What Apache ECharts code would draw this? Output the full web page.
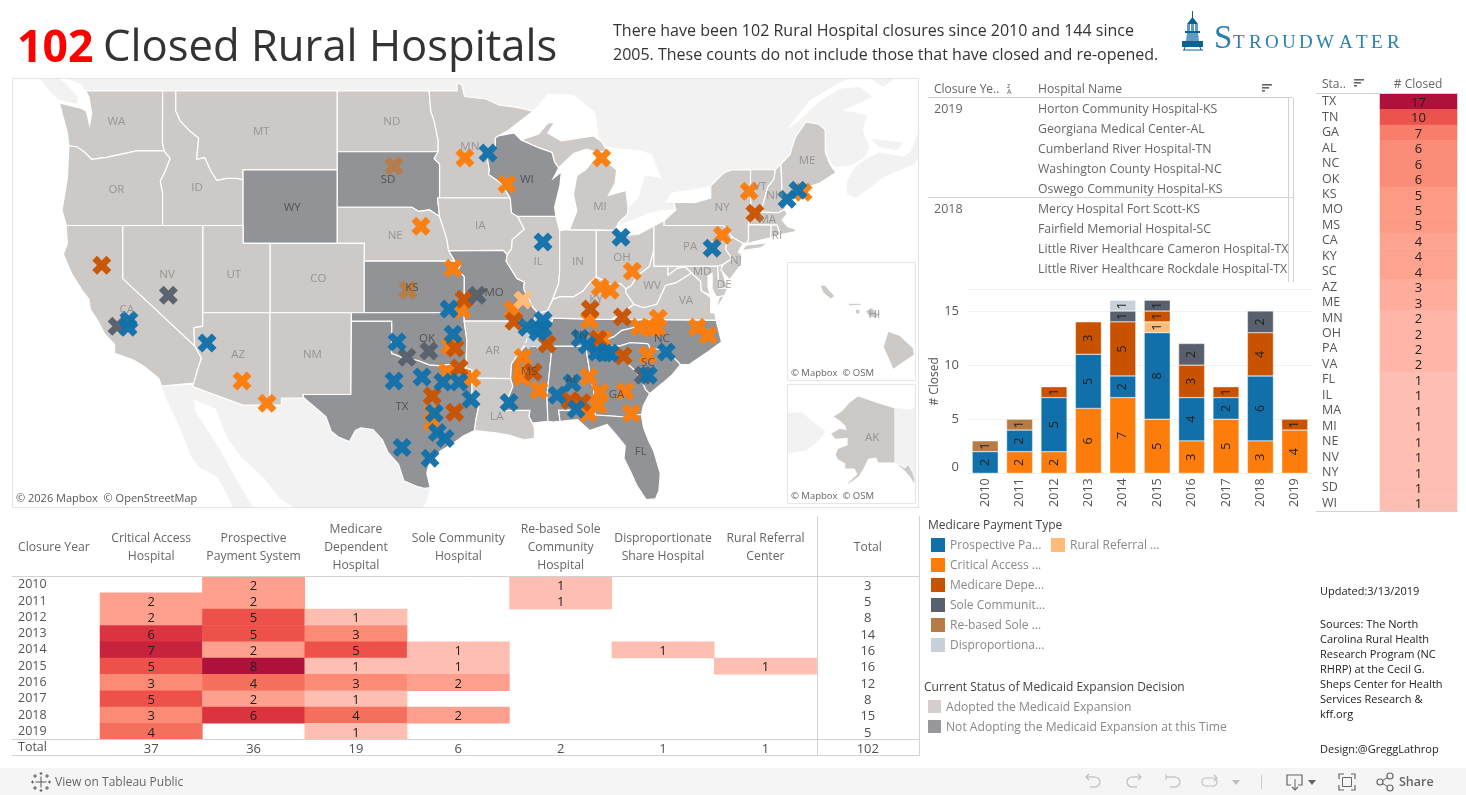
<!DOCTYPE html>
<html>
<head>
<meta charset="utf-8">
<title>102 Closed Rural Hospitals</title>
<style>html,body{margin:0;padding:0;background:#fff}#chart{width:1466px;height:795px}</style>
<script src="https://cdn.jsdelivr.net/npm/echarts@6/dist/echarts.min.js"></script>
</head>
<body>
<div id="chart"></div>
<script>
// ---------- Closures by year and Medicare payment type ----------
const years = ['2010','2011','2012','2013','2014','2015','2016','2017','2018','2019'];
const critical    = [null,2,2,6,7,5,3,5,3,4];
const prospective = [2,2,5,5,2,8,4,2,6,null];
const dependent   = [null,null,1,3,5,1,3,1,4,1];
const soleComm    = [null,null,null,null,1,1,2,null,2,null];
const rebased     = [1,1,null,null,null,null,null,null,null,null];
const dispro      = [null,null,null,null,1,null,null,null,null,null];
const rural       = [null,null,null,null,null,1,null,null,null,null];
const yearTotals  = [3,5,8,14,16,16,12,8,15,5];
const typeTotals  = [37,36,19,6,2,1,1,102];
const typeHeads   = ['Critical Access\nHospital','Prospective\nPayment System','Medicare\nDependent\nHospital','Sole Community\nHospital','Re-based Sole\nCommunity\nHospital','Disproportionate\nShare Hospital','Rural Referral\nCenter','Total'];

// ---------- Closures by state ----------
const stateNames  = ['TX','TN','GA','AL','NC','OK','KS','MO','MS','CA','KY','SC','AZ','ME','MN','OH','PA','VA','FL','IL','MA','MI','NE','NV','NY','SD','WI'];
const stateClosed = [17,10,7,6,6,6,5,5,5,4,4,4,3,3,2,2,2,2,1,1,1,1,1,1,1,1,1];

// ---------- Most recent closures ----------
const hospitals2019 = ['Horton Community Hospital-KS','Georgiana Medical Center-AL','Cumberland River Hospital-TN','Washington County Hospital-NC','Oswego Community Hospital-KS'];
const hospitals2018 = ['Mercy Hospital Fort Scott-KS','Fairfield Memorial Hospital-SC','Little River Healthcare Cameron Hospital-TX','Little River Healthcare Rockdale Hospital-TX'];

// ---------- Hospital locations [lon, lat] ----------
const sitesCritical = [[-111.13,32.84],[-109.27,31.44],[-97.83,41.96],[-95.45,39.6],[-94.78,37.16],[-95.67,35],[-95.89,33.4],[-94.06,33.03],[-96.99,30.87],[-96.99,30.23],[-94.57,45.62],[-91.45,44.24],[-84.4,45.62],[-82.13,39.43],[-75.44,41.46],[-73.45,43.86],[-69.44,43.81],[-84.51,38.5],[-83.77,38.33],[-91,37.2],[-85.3,36.56],[-81.6,36.14],[-80.7,36.08],[-80.2,36.68],[-80.3,36.14],[-77.3,36.14],[-76.49,35.66],[-84.3,35.42],[-81,34.45],[-90.25,34.32],[-90.4,33.4],[-90.33,33.09],[-89.07,32.27],[-85.35,33.09],[-84.53,32.14],[-84.68,31.32],[-85.43,30.81],[-82.65,32.2],[-82.2,30.81]];
const sitesProspective = [[-119.53,36.56],[-119.6,36.14],[-113.73,35.18],[-95.75,37.22],[-95.45,35.72],[-99.61,35.24],[-99.83,32.84],[-97.75,33.09],[-96.2,32.78],[-95.02,32.78],[-94.11,31.7],[-96.84,30.81],[-96.62,29.58],[-96.03,29.19],[-99.24,28.6],[-97.16,27.9],[-92.85,45.87],[-88.76,41.08],[-82.97,41.35],[-76.2,40.73],[-70.63,43.43],[-69.82,43.92],[-89.95,36.14],[-88.76,36.56],[-88.76,36.08],[-89.13,35.84],[-86.01,35.48],[-85.49,35.06],[-84.75,34.63],[-83.79,34.57],[-84.2,34.57],[-79.6,34.63],[-80.93,33.2],[-91.29,31.5],[-87.72,31.95],[-86.6,32.72],[-86.3,31.06]];
const sitesDependent = [[-121.55,39.77],[-94.63,37.8],[-95.29,34.88],[-94.99,33.65],[-97,31.9],[-95.33,30.87],[-73.02,42.67],[-90.92,36.5],[-88.46,35.12],[-85.25,37.22],[-82.87,36.75],[-84.67,35.42],[-82.81,34.4],[-89.5,33.4],[-86.75,31.6],[-85.87,31.5]];
const sitesSole = [[-116.6,38.03],[-120.41,36.2],[-93.66,38.03],[-98.87,34.32],[-97.24,34.7],[-81.33,33.2]];
const sitesRebased = [[-99.84,45.2],[-98.8,38.33]];
const sitesRural = [[-90.26,37.75]];
const sitesDispro = [[-89.5,35.36]];

// ---------- Medicaid expansion groups ----------
const notAdopting = ['WY','SD','KS','MO','OK','TX','WI','TN','NC','SC','GA','AL','MS','FL'];

// ---------- State label anchors [name, lon, lat] ----------
const stateLabels = [['WA',-120.46,47.45],['OR',-120.46,43.97],['ID',-114.47,44.03],['MT',-109.7,46.95],['ND',-100,47.45],['SD',-100.28,44.46],['WY',-107.4,42.95],['NE',-99.75,41.46],['NV',-116.7,39.2],['UT',-111.74,39.2],['CO',-105.45,38.97],['KS',-98.5,38.45],['CA',-119.7,37.2],['AZ',-111.42,34.45],['NM',-105.9,34.45],['OK',-97.38,35.42],['TX',-99.24,31.2],['MN',-94.2,46.2],['WI',-89.96,44.46],['IA',-93.43,41.96],['MI',-84.53,43.05],['IL',-89.13,39.95],['IN',-86.16,39.95],['OH',-82.9,40.18],['MO',-92.4,38.2],['KY',-84.82,37.75],['WV',-80.66,38.56],['VA',-78.14,37.7],['PA',-77.83,40.8],['NY',-75.46,42.95],['ME',-69.14,45.46],['VT',-72.64,44.08],['NH',-71.53,43.6],['MA',-72.1,42.33],['RI',-71.38,41.46],['NJ',-74.43,40],['MD',-76.95,39.37],['DE',-75.3,38.63],['TN',-86,35.65],['NC',-79.93,35.42],['SC',-80.97,33.95],['GA',-83.3,32],['AL',-86.6,32.9],['MS',-89.8,33.45],['AR',-92.5,34.7],['LA',-92.2,30.6],['FL',-81.5,28.35]];

// ---------- Simplified outlines, "lon,lat" rings ----------
const backdropRings = {
  Canada:['-124.2,49.62 -123,49.3 -122.76,48.95 -95.15,48.9 -94.6,48.6 -92,48.2 -90.8,48.1 -89.5,47.95 -88.4,48.85 -86.5,48.8 -84.9,47.95 -84.6,46.55 -84.1,46.2 -83,46.1 -81.5,46 -80.7,45.8 -80,44.6 -81.2,44.7 -81.7,43.5 -82.42,43 -82.5,42.6 -83.1,42.2 -83.1,42 -81,42.65 -80,42.85 -78.9,42.85 -79.05,43.27 -79.7,43.25 -79.2,43.8 -77.5,43.95 -76.3,44.15 -75.3,44.85 -74.7,45 -71.5,45 -70.4,45.8 -70,46.7 -69.23,47.46 -68.3,47.35 -67.8,47.07 -67.78,45.9 -67.1,45.15 -66,45.2 -64.9,45.6 -64.5,46.2 -65,47 -64.7,47.8 -65.7,47.95 -66.5,48 -64.3,48.7 -65.2,49.2 -66.7,49.1 -68.2,48.5 -69.9,47.4 -70.6,47.1 -69.9,47.75 -69,48.5 -68,48.9 -67,49.3 -66,49.62',
    '-125.3,48.9 -124.7,48.55 -123.4,48.35 -123.3,48.7 -124.3,49.4 -124.8,49.62 -126.2,49.62',
    '-66.2,43.7 -65.5,43.5 -63.5,44.6 -61.2,45.3 -60.9,45.6 -60.9,46.9 -61.5,45.9 -62,45.7 -63.8,45.9 -64.8,45.55 -65.5,45.2 -66.2,44.4',
    '-64.4,46.6 -63,46.5 -62,46.4 -62.5,46 -63.8,46.2',
    '-64.5,49.62 -62.5,49.62 -63.5,49.2'],
  Mexico:['-114.7,31.7 -114.8,32.6 -106,32 -100,30 -97.15,26 -97.4,25 -97.75,24.65 -107.3,24.65 -108.3,25.2 -109.4,26.5 -110.6,27.5 -111.2,28 -112.2,29.2 -113.1,31.1',
    '-117.12,32.53 -114.8,32.6 -114.7,31.7 -114.6,30.9 -113.6,29.6 -112.8,28.5 -111.8,26.9 -110.7,25.2 -110.3,24.65 -111.8,24.65 -112.3,25.6 -113,26.7 -114.3,27.3 -114.9,28 -115.8,30 -116.7,31.6'],
  Superior:['-92.1,46.75 -89.5,48 -88.4,48.85 -86.5,48.8 -84.9,47.95 -84.6,46.55 -85,46.75 -87.4,46.5 -88.4,47.4 -90.4,46.6'],
  Huron:['-84.7,45.78 -83.3,45 -83.4,44.3 -83.9,43.65 -82.6,43.9 -82.45,43 -81.7,43.5 -81.2,44.7 -80,44.6 -80.7,45.8 -81.5,46 -83,46.1 -84.1,46.2'],
  Erie:['-83.45,41.73 -82.7,41.45 -81.7,41.5 -80.52,41.98 -79.76,42.27 -78.9,42.85 -80,42.85 -81,42.65 -83.1,42'],
  Ontario:['-79.7,43.25 -79.05,43.27 -77.5,43.25 -76.3,43.5 -76.3,44.15 -77.5,43.95 -79.2,43.8']
};
const stateRings = {
  WA:['-124.7,48.4 -123.1,48.15 -122.7,48 -122.45,47.3 -122.3,47.9 -122.5,48.7 -122.76,49 -117.03,49 -117.04,46.42 -116.92,45.99 -118.98,46 -119.3,45.93 -121.2,45.65 -122.3,45.55 -122.8,45.9 -123.4,46.2 -124,46.25 -124.1,46.9'],
  OR:['-124,46.25 -123.4,46.2 -122.8,45.9 -122.3,45.55 -121.2,45.65 -119.3,45.93 -118.98,46 -116.92,45.99 -116.47,45.6 -116.85,44.9 -117.2,44.4 -117.03,43.8 -117.03,42 -124.2,42 -124.5,42.84 -124.1,44.6'],
  ID:['-117.03,49 -116.05,49 -116.05,48 -115.7,47.5 -115,47 -114.35,46.65 -114.5,45.55 -113.9,45.65 -113.45,44.95 -113,44.45 -112.3,44.55 -111.5,44.55 -111.05,44.48 -111.05,42 -117.03,42 -117.03,43.8 -117.2,44.4 -116.85,44.9 -116.47,45.6 -116.92,45.99 -117.04,46.42'],
  MT:['-116.05,49 -104.05,49 -104.05,45 -111.05,45 -111.05,44.48 -111.5,44.55 -112.3,44.55 -113,44.45 -113.45,44.95 -113.9,45.65 -114.5,45.55 -114.35,46.65 -115,47 -115.7,47.5 -116.05,48'],
  WY:['-111.05,45 -104.05,45 -104.05,41 -111.05,41'],
  ND:['-104.05,49 -97.23,49 -97.1,48 -96.85,47.5 -96.55,46.5 -96.56,45.94 -104.05,45.94'],
  SD:['-104.05,45.94 -96.56,45.94 -96.85,45.6 -96.45,45.3 -96.45,43.5 -96.6,43.5 -96.45,42.49 -97.2,42.85 -98,42.77 -98.5,43 -104.05,43'],
  NE:['-104.05,43 -98.5,43 -98,42.77 -97.2,42.85 -96.45,42.49 -96.1,41.7 -95.9,41.2 -95.77,40.58 -95.31,40 -102.05,40 -102.05,41 -104.05,41'],
  CO:['-109.05,41 -102.05,41 -102.05,37 -109.05,37'],
  KS:['-102.05,40 -95.31,40 -94.9,39.75 -95.1,39.5 -94.61,39.11 -94.62,37 -102.05,37'],
  UT:['-114.05,42 -111.05,42 -111.05,41 -109.05,41 -109.05,37 -114.05,37'],
  NV:['-120,42 -114.05,42 -114.05,36.2 -114.7,36.1 -114.65,35 -120,39'],
  AZ:['-114.05,37 -109.05,37 -109.05,31.33 -111.07,31.33 -114.8,32.5 -114.72,32.72 -114.5,33.4 -114.15,34.27 -114.65,35 -114.7,36.1 -114.05,36.2'],
  NM:['-109.05,37 -103,37 -103.04,32 -106.62,32 -106.53,31.78 -108.2,31.78 -108.2,31.33 -109.05,31.33'],
  CA:['-124.2,42 -120,42 -120,39 -114.65,35 -114.15,34.27 -114.5,33.4 -114.72,32.72 -117.12,32.53 -117.3,33 -118.4,33.75 -119.2,34.15 -120.6,34.55 -120.6,35.1 -121.3,35.7 -121.9,36.6 -122.4,37.2 -122.5,37.8 -123,38.3 -123.8,39.3 -124.4,40.4 -124.1,41'],
  TX:['-106.62,32 -103.04,32 -103,36.5 -100,36.5 -100,34.56 -99.2,34.3 -98.1,34.13 -97.2,33.85 -96.5,33.8 -95.5,33.9 -94.48,33.64 -94.04,33.55 -94.04,33.02 -94.04,31.99 -93.55,31.2 -93.75,30.4 -93.85,29.7 -94.7,29.35 -95.4,28.9 -96.4,28.35 -97.2,27.65 -97.4,26.9 -97.15,25.96 -97.6,25.9 -98.2,26.05 -99.1,26.4 -99.5,27.5 -100.3,28.3 -100.7,29.1 -101.4,29.77 -102.3,29.88 -102.7,29.7 -103.15,28.98 -104,29.3 -104.5,29.65 -104.9,30.6 -106,31.4 -106.53,31.78'],
  OK:['-103,37 -94.62,37 -94.62,36.5 -94.43,35.4 -94.48,33.64 -95.5,33.9 -96.5,33.8 -97.2,33.85 -98.1,34.13 -99.2,34.3 -100,34.56 -100,36.5 -103,36.5'],
  MN:['-97.23,49 -95.15,49 -95.15,49.38 -94.8,49.3 -94.6,48.72 -93,48.6 -92,48.3 -90.8,48.2 -89.5,48 -91.4,47 -92.1,46.75 -92.3,46.65 -92.3,46.1 -92.9,45.6 -92.75,45 -92.8,44.75 -91.9,44.3 -91.2,43.5 -96.45,43.5 -96.45,45.3 -96.85,45.6 -96.56,45.94 -96.55,46.5 -96.85,47.5 -97.1,48'],
  IA:['-96.45,43.5 -91.2,43.5 -91.1,42.7 -90.65,42.5 -90.15,41.8 -91.05,41.2 -91.1,40.7 -91.42,40.38 -91.73,40.61 -95.77,40.58 -95.9,41.2 -96.1,41.7 -96.45,42.49 -96.6,43.5'],
  MO:['-95.77,40.58 -91.73,40.61 -91.42,40.38 -91.5,40 -90.7,39 -90.15,38.8 -90.2,38.4 -89.5,37.3 -89.15,37 -89.5,36.5 -89.7,36 -90.37,36 -90.15,36.5 -94.62,36.5 -94.62,37 -94.61,39.11 -95.1,39.5 -94.9,39.75 -95.31,40'],
  AR:['-94.62,36.5 -90.15,36.5 -90.37,36 -89.7,36 -90.1,35.1 -90.6,34.5 -91.1,33.9 -91.17,33 -94.04,33.02 -94.04,33.55 -94.48,33.64 -94.43,35.4'],
  LA:['-94.04,33.02 -91.17,33 -91,32.5 -91.5,31.5 -91.6,31 -89.73,31 -89.8,30.6 -89.55,30.18 -89.4,29.9 -89.4,29.2 -90.2,29.1 -91.3,29.4 -92.3,29.55 -93.85,29.7 -93.75,30.4 -93.55,31.2 -94.04,31.99'],
  MS:['-90.1,35 -88.2,35 -88.1,34.9 -88.47,31.9 -88.4,30.3 -89.55,30.18 -89.8,30.6 -89.73,31 -91.6,31 -91.5,31.5 -91,32.5 -91.17,33 -91.1,33.9 -90.6,34.5'],
  AL:['-88.2,35 -85.6,35 -85.18,32.87 -85,32.3 -85,31 -87.6,31 -87.5,30.3 -88,30.25 -88.4,30.3 -88.47,31.9 -88.1,34.9'],
  TN:['-90.1,35 -88.2,35 -85.6,35 -84.32,34.99 -84,35.4 -83.5,35.57 -82.9,35.95 -82,36.12 -81.68,36.59 -83.68,36.6 -86.5,36.65 -88.07,36.68 -88.07,36.5 -89.5,36.5 -89.7,36'],
  KY:['-89.15,37 -89.5,36.5 -88.07,36.5 -88.07,36.68 -86.5,36.65 -83.68,36.6 -83.1,36.85 -82,37.5 -82.6,38.17 -82.6,38.4 -83,38.72 -83.7,38.65 -84.8,39.1 -85.4,38.7 -85.8,38.28 -86.5,37.95 -87.5,37.95 -88.05,37.8 -88.45,37.1'],
  IL:['-90.65,42.5 -87.8,42.5 -87.53,41.7 -87.53,39.35 -87.6,38.7 -88.05,37.8 -88.45,37.1 -89.15,37 -89.5,37.3 -90.2,38.4 -90.15,38.8 -90.7,39 -91.5,40 -91.42,40.38 -91.1,40.7 -91.05,41.2 -90.15,41.8'],
  IN:['-87.53,41.7 -87.2,41.75 -86.8,41.76 -84.8,41.76 -84.8,39.1 -85.4,38.7 -85.8,38.28 -86.5,37.95 -87.5,37.95 -88.05,37.8 -87.6,38.7 -87.53,39.35'],
  OH:['-84.8,41.76 -83.45,41.73 -82.7,41.45 -81.7,41.5 -80.52,41.98 -80.52,40.64 -80.85,39.7 -81.7,39.2 -82.2,38.6 -82.6,38.4 -83,38.72 -83.7,38.65 -84.8,39.1'],
  WV:['-80.52,40.64 -80.52,39.72 -79.48,39.72 -79.48,39.2 -78.8,39.6 -78.2,39.68 -77.72,39.32 -78.35,39 -78.9,38.75 -79.65,38.6 -80.3,37.5 -81.3,37.3 -82,37.5 -82.6,38.17 -82.6,38.4 -82.2,38.6 -81.7,39.2 -80.85,39.7'],
  VA:['-83.68,36.6 -81.68,36.59 -75.9,36.55 -76,37 -76.3,37 -76.3,37.9 -77,38.3 -77.05,38.85 -77.72,39.32 -78.35,39 -78.9,38.75 -79.65,38.6 -80.3,37.5 -81.3,37.3 -82,37.5 -83.1,36.85','-75.65,37.95 -75.25,38.03 -75.95,37.15'],
  MD:['-79.48,39.72 -75.79,39.72 -75.69,38.46 -75.05,38.45 -75.25,38.03 -75.65,37.95 -75.9,37.95 -76.2,38.4 -76.2,39.3 -76.5,39.2 -76.5,38.5 -76.35,38.05 -77,38.3 -77.05,38.85 -77.72,39.32 -78.2,39.68 -78.8,39.6 -79.48,39.2'],
  DE:['-75.79,39.72 -75.5,39.83 -75.4,39.3 -75.05,38.45 -75.69,38.46'],
  PA:['-80.52,41.98 -79.76,42.27 -79.76,42 -75.35,42 -74.7,41.36 -75.13,40.98 -75.2,40.68 -74.72,40.15 -75.4,39.8 -75.79,39.72 -80.52,39.72'],
  NJ:['-74.7,41.36 -73.9,41 -74.25,40.5 -74,40.4 -74.1,39.75 -74.9,38.93 -75.55,39.5 -75.4,39.8 -74.72,40.15 -75.2,40.68 -75.13,40.98'],
  NY:['-79.76,42.27 -78.9,42.85 -79.05,43.27 -77.5,43.25 -76.3,43.5 -76.3,44.15 -75.3,44.85 -74.7,45 -73.34,45.01 -73.35,43.6 -73.25,42.75 -73.5,42.05 -73.49,41.2 -73.66,41 -73.9,41 -74.7,41.36 -75.35,42 -79.76,42','-74,40.6 -73.7,40.9 -72,41.05 -72.6,40.75'],
  VT:['-73.34,45.01 -71.5,45.01 -71.6,44.5 -72.05,44.1 -72.45,43.1 -72.46,42.73 -73.25,42.75 -73.35,43.6'],
  NH:['-71.5,45.01 -71.08,45.3 -70.98,43.4 -70.7,43.07 -70.82,42.87 -71.3,42.7 -72.46,42.73 -72.45,43.1 -72.05,44.1 -71.6,44.5'],
  ME:['-71.08,45.3 -70.4,45.8 -70.25,46.2 -70,46.7 -69.23,47.46 -68.3,47.35 -67.8,47.07 -67.78,45.9 -67.45,45.3 -67,44.85 -68.2,44.3 -69,44.1 -70,43.75 -70.7,43.07 -70.98,43.4'],
  MA:['-73.5,42.05 -73.25,42.75 -72.46,42.73 -71.3,42.7 -70.82,42.87 -70.6,42.65 -71,42.3 -70.6,41.95 -70,41.8 -70.05,41.65 -71.12,41.5 -71.38,42.02 -71.8,42.02'],
  CT:['-73.5,42.05 -71.8,42.02 -71.85,41.32 -73.66,41 -73.49,41.2'],
  RI:['-71.8,42.02 -71.38,42.02 -71.12,41.5 -71.85,41.32'],
  MI:['-86.8,41.76 -84.8,41.76 -83.45,41.73 -83.1,42.2 -82.5,42.6 -82.45,43 -82.6,43.9 -83.9,43.65 -83.4,44.3 -83.3,45 -84.7,45.78 -85.6,45 -86.25,44.7 -86.5,43.7 -86.25,42.8','-90.4,46.55 -89.1,46.85 -88.4,47.4 -87.9,47.45 -88.4,46.9 -87.4,46.5 -86,46.65 -85,46.75 -84.4,46.45 -84,46 -84.75,45.9 -85.5,46.08 -86.5,45.85 -87.6,45.1 -87.9,45.4 -88.1,45.9 -89.1,46.15'],
  WI:['-92.1,46.75 -90.9,46.9 -90.4,46.55 -89.1,46.15 -88.1,45.9 -87.9,45.4 -87.6,45.1 -88,44.55 -87.4,44.9 -87.5,44.2 -87.9,43 -87.8,42.5 -90.65,42.5 -91.1,42.7 -91.2,43.5 -91.9,44.3 -92.8,44.75 -92.75,45 -92.9,45.6 -92.3,46.1 -92.3,46.65'],
  NC:['-84.32,34.99 -84,35.4 -83.5,35.57 -82.9,35.95 -82,36.12 -81.68,36.59 -75.9,36.55 -75.5,35.25 -76.5,34.65 -77.9,33.87 -78.55,33.86 -79.67,34.8 -80.8,34.82 -80.93,35.1 -81.05,35.15 -82.3,35.2 -83.1,35'],
  SC:['-83.1,35 -82.3,35.2 -81.05,35.15 -80.93,35.1 -80.8,34.82 -79.67,34.8 -78.55,33.86 -79.2,33.2 -79.9,32.7 -80.85,32.05 -81.15,32.3 -81.5,33 -81.95,33.5 -82.6,34 -83.35,34.7'],
  GA:['-85.6,35 -84.32,34.99 -83.1,35 -83.35,34.7 -82.6,34 -81.95,33.5 -81.5,33 -81.15,32.3 -80.85,32.05 -81.3,31.3 -81.45,30.72 -82.05,30.72 -82.2,30.55 -84.86,30.7 -85,31 -85,32.3 -85.18,32.87'],
  FL:['-87.6,31 -85,31 -84.86,30.7 -82.2,30.55 -82.05,30.72 -81.45,30.72 -81.3,29.9 -80.9,29 -80.55,28.4 -80.05,26.9 -80.15,25.75 -80.4,25.2 -81.1,25.15 -81.8,26.1 -82.2,26.9 -82.75,27.9 -82.65,28.7 -83.4,29.5 -84,30.1 -85.3,29.7 -86.2,30.4 -87.5,30.3']
};
const hawaiiRings = {
  HI:['-159.9,22.9 -159.6,22.9 -159.07,22.35 -159.3,22.2 -159.7,22.5','-158.4,22 -157.7,22 -157.6,21.9 -158.3,21.85','-158,21.7 -157.7,21.7 -157.75,21.45 -157.95,21.45','-157.46,21.6 -157.1,21.8 -156.8,21.5 -156.49,21.55 -156.9,21.25 -157.25,21.35','-156.22,20.6 -155.6,20.4 -154.85,19.75 -154.8,19.4 -155.5,18.95 -155.95,18.65 -156.2,19.2 -156.49,19.8']
};
const alaskaRings = {
  AK:['-141,69.65 -148,70.4 -156.5,71.35 -160,70.5 -163,69.3 -166.8,68.35 -164,67.6 -162,66.9 -161.5,66.3 -164,66.5 -168,65.6 -166,64.6 -161,64.7 -161,63.6 -165,62.9 -166,61.7 -165,60.7 -162,59.9 -162,58.7 -158,58.7 -157,57.6 -162,55 -164.5,54.6 -160,55.4 -156,57 -154,58.7 -152,60.8 -149,61 -148,60 -144.5,60 -141,60 -139,59.7 -137,59 -135.5,59.8 -133.5,58 -132.7,56.5 -132.7,55 -135,57 -137,58.2 -139.5,59.4 -141,59.9'],
  Canada:['-141,69.65 -135,69.4 -132.67,69.7 -132.67,56 -133.5,58 -135.5,59.8 -137,59 -139,59.7 -141,60'],
  Russia:['-186,68.9 -180,69 -175,67.5 -170,66 -173,64.3 -178,62.5 -186,62']
};

// ---------- Web Mercator, the map's own projection ----------
const mercator = lat => Math.log(Math.tan(Math.PI / 4 + lat * Math.PI / 360)) * 180 / Math.PI;
const inverseMercator = m => (2 * Math.atan(Math.exp(m * Math.PI / 180)) - Math.PI / 2) * 180 / Math.PI;
const mapProjection = { project: p => [p[0], -mercator(p[1])], unproject: p => [p[0], inverseMercator(-p[1])] };

const parseRing = s => s.trim().split(/\s+/).map(pair => pair.split(',').map(Number));
function toGeoJSON(groups) {
  const features = [];
  groups.forEach(group => Object.keys(group).forEach(name => features.push({
    type: 'Feature', properties: { name },
    geometry: { type: 'MultiPolygon', coordinates: group[name].map(r => [parseRing(r)]) }
  })));
  return { type: 'FeatureCollection', features };
}
echarts.registerMap('lower48', toGeoJSON([backdropRings, stateRings]));
echarts.registerMap('hawaii', toGeoJSON([hawaiiRings]));
echarts.registerMap('alaska', toGeoJSON([alaskaRings]));

// ---------- Palette ----------
const FONT = '"Open Sans", sans-serif';
const C = { prospective:'#1170aa', critical:'#fc7d0b', dependent:'#c85200', sole:'#57606c', rebased:'#b77c45', rural:'#ffbc79', dispro:'#c8d0d9',
  adopted:'#cdc9c7', notAdopted:'#929397', backdrop:'#f2f2f2', grey:'#666', dark:'#222', rule:'#d2d2d2' };
const X_MARK = 'path://M25,0 L50,25 L75,0 L100,25 L75,50 L100,75 L75,100 L50,75 L25,100 L0,75 L25,50 L0,25 Z';

// ---------- Small drawing helpers for the dashboard furniture ----------
const T = (text, x, y, size, fill, o = {}) => ({ type:'text', z:o.z || 10, silent:true, style:{ text, x, y: y + 2, fill,
  font:`${o.weight || 'normal'} ${size}px ${o.family || FONT}`, textAlign:o.align || 'left', textVerticalAlign:'middle' } });
const L = (x1, y1, x2, y2, stroke = C.rule, w = 1) => ({ type:'line', z:9, silent:true, shape:{ x1, y1, x2, y2 }, style:{ stroke, lineWidth:w } });
const R = (x, y, width, height, fill, stroke) => ({ type:'rect', z:8, silent:true, shape:{ x, y, width, height }, style:{ fill, stroke: stroke || null, lineWidth: stroke ? 1 : 0 } });
const P = (points, fill) => ({ type:'polygon', z:9, silent:true, shape:{ points }, style:{ fill } });
const PL = (points, stroke, w = 1.2) => ({ type:'polyline', z:9, silent:true, shape:{ points }, style:{ stroke, lineWidth:w, fill:null } });
const A = (cx, cy, r, s, e, stroke, w = 1.2) => ({ type:'arc', z:9, silent:true, shape:{ cx, cy, r, startAngle:s, endAngle:e }, style:{ stroke, lineWidth:w, fill:null } });
const CI = (cx, cy, r, stroke) => ({ type:'circle', z:9, silent:true, shape:{ cx, cy, r }, style:{ stroke, lineWidth:1.2, fill:'#f5f5f5' } });
const sortIcon = (x, y) => [R(x, y, 10, 1.6, '#666'), R(x, y + 3, 7, 1.6, '#666'), R(x, y + 6, 3, 1.6, '#666')];

const graphics = [];
const add = (...els) => els.forEach(e => graphics.push(e));

// Title band
add(T('102', 17, 47, 44.5, '#ff0000', { weight:'bold' }), T('Closed Rural Hospitals', 103, 47, 43.6, '#333'));
add(T('There have been 102 Rural Hospital closures since 2010 and 144 since', 613, 29, 16, '#333'),
    T('2005. These counts do not include those that have closed and re-opened.', 613, 53, 16, '#333'));

// Lighthouse mark and wordmark
const LOGO = '#0b6294', LOGO_LT = '#5d9bbf';
add(L(1192.5, 11, 1192.5, 19, LOGO, 1), P([[1187,24],[1192.5,17],[1198,24]], LOGO), R(1187, 24, 11, 7, LOGO_LT), L(1190.5,24,1190.5,31,'#fff',1), L(1194.5,24,1194.5,31,'#fff',1),
    R(1185, 31, 15, 2, LOGO), P([[1187,33],[1198,33],[1199,41],[1186,41]], LOGO_LT), R(1182, 41, 21, 6, LOGO), L(1185,47,1184,50,LOGO,1), L(1200,47,1201,50,LOGO,1), L(1183,50,1203,50,LOGO,1));
add(T('S', 1214, 37, 33, '#2b7fae', { family:'"Liberation Serif", serif' }));
'TROUDWATER'.split('').forEach((ch, i) => add(T(ch, 1233 + [0,16,32,49,66,83,106,123,138,154][i], 41, 19, '#2b7fae', { family:'"Liberation Serif", serif' })));

// Map frames and attributions
add(R(12.5, 78.5, 906, 429, null, '#e3e3e3'), R(787.5, 262.5, 128, 118, null, '#e6e6e6'), R(787.5, 384.5, 128, 119, null, '#e6e6e6'));
add(T('© 2026 Mapbox  © OpenStreetMap', 16, 497, 11, '#555'), T('© Mapbox  © OSM', 791, 371, 9.5, '#666'), T('© Mapbox  © OSM', 791, 494, 9.5, '#666'));

// Recent closures list
add(T('Closure Ye..', 934, 88, 12, C.grey), T('z', 1007, 84, 7, C.grey), T('A', 1007, 90, 7, C.grey), T('Hospital Name', 1038, 88, 12.2, C.grey), ...sortIcon(1262, 84));
add(L(928, 97.5, 1293, 97.5), L(928, 197.5, 1293, 197.5), L(1288.5, 98, 1288.5, 282), L(1293.5, 98, 1293.5, 282));
add(T('2019', 934, 107, 12.5, C.grey), T('2018', 934, 207, 12.5, C.grey));
hospitals2019.forEach((h, i) => add(T(h, 1038, 107 + 20 * i, 12.3, C.grey)));
hospitals2018.forEach((h, i) => add(T(h, 1038, 207 + 20 * i, 12.3, C.grey)));

// State table furniture
add(T('Sta..', 1322, 83, 12, C.grey), ...sortIcon(1354, 79), T('# Closed', 1418, 83, 12, C.grey, { align:'center' }), L(1316, 93.5, 1458, 93.5), L(1316, 511.5, 1458, 511.5));

// Bottom table furniture
add(T('Closure Year', 18, 546, 12.2, C.grey));
add(L(12, 576.5, 919, 576.5), L(12, 739.5, 919, 739.5), L(12, 755.5, 919, 755.5), L(817.5, 516, 817.5, 756), L(919.5, 516, 919.5, 756));

// Payment type legend
add(T('Medicare Payment Type', 928, 524, 12, '#444'));
[['Prospective Pa...',C.prospective,931,544],['Critical Access ...',C.critical,931,564],['Medicare Depe...',C.dependent,931,584],['Sole Communit...',C.sole,931,604],['Re-based Sole ...',C.rebased,931,624],['Disproportiona...',C.dispro,931,644],['Rural Referral ...',C.rural,1051,544]]
  .forEach(([t, c, x, y]) => add(R(x, y - 6, 14, 14, c), T(t, x + 19, y, 12, '#888')));
add(T('Current Status of Medicaid Expansion Decision', 924, 686, 12, '#444'));
add(R(928, 700, 13, 13, '#d4cfcc'), T('Adopted the Medicaid Expansion', 946, 706, 12.1, '#888'),
    R(928, 720, 13, 13, '#97979c'), T('Not Adopting the Medicaid Expansion at this Time', 946, 726, 12.1, '#888'));

// Notes column
add(T('Updated:3/13/2019', 1320, 590, 11, C.dark));
['Sources: The North','Carolina Rural Health','Research Program (NC','RHRP) at the Cecil G.','Sheps Center for Health','Services Research &','kff.org'].forEach((s, i) => add(T(s, 1320, 623 + 15 * i, 11, C.dark)));
add(T('Design:@GreggLathrop', 1320, 748, 11, C.dark));

// Viewer toolbar
add(R(0, 768, 1466, 27, '#f5f5f5'));
add(T('View on Tableau Public', 55, 780.5, 12, C.grey));
[[41,782,5.5],[35,776,2],[47,776,2],[35,788,2],[47,788,2],[41,773.5,1.5],[41,790.5,1.5],[32.5,782,1.5],[49.5,782,1.5]].forEach(([x,y,r]) => add(L(x-r,y,x+r,y,'#666',1.1), L(x,y-r,x,y+r,'#666',1.1)));
const OFF = '#bdbdbd', ON = '#666';
add(PL([[1086,777],[1095,777]],OFF), A(1095,782,5,-Math.PI/2,Math.PI/2,OFF), PL([[1095,787],[1090,787]],OFF), PL([[1089,774],[1086,777],[1089,780]],OFF));
add(PL([[1141,777],[1132,777]],OFF), A(1132,782,5,Math.PI/2,-Math.PI/2,OFF), PL([[1132,787],[1137,787]],OFF), PL([[1138,774],[1141,777],[1138,780]],OFF));
add(PL([[1166,777],[1175,777]],OFF), A(1175,782,5,-Math.PI/2,Math.PI/2,OFF), PL([[1175,787],[1170,787]],OFF), L(1166,774,1166,780,OFF));
add({ type:'rect', z:9, silent:true, shape:{ x:1202, y:778, width:15, height:8, r:4 }, style:{ fill:null, stroke:OFF, lineWidth:1.2 } }, PL([[1214,775],[1217,778],[1214,781]],OFF));
add(P([[1232,780],[1240,780],[1236,785]],OFF), L(1261.5,775,1261.5,789,'#ccc'));
add(PL([[1291,785],[1287,785],[1287,775],[1302,775],[1302,785],[1298,785]],ON), L(1295,779,1295,790,ON), PL([[1292,787],[1295,790],[1298,787]],ON), P([[1308,780],[1316,780],[1312,785]],ON));
add(PL([[1339,779],[1339,774],[1344,774]],ON), PL([[1351,774],[1355,774],[1355,779]],ON), PL([[1355,785],[1355,790],[1351,790]],ON), PL([[1344,790],[1339,790],[1339,785]],ON), R(1342.5,777.5,9,9,null,ON));
add(L(1380,782,1390,776,ON), L(1380,782,1390,788,ON), CI(1380,782,3,ON), CI(1390,776,3,ON), CI(1390,788,3,ON));
add(T('Share', 1399, 780.5, 12.5, C.grey, { weight:'600' }));

// ---------- Map series ----------
const markers = (name, data, color, z) => ({ name, type:'scatter', coordinateSystem:'geo', geoIndex:0, data, symbol:X_MARK, symbolSize:19, z, silent:true, itemStyle:{ color, opacity:0.96 } });
const mapTextSeries = (geoIndex, rows, colorOf, z) => ({ type:'scatter', coordinateSystem:'geo', geoIndex, symbolSize:1, z, silent:true, itemStyle:{ color:'transparent' },
  data: rows.map(([name, lon, lat]) => ({ name, value:[lon, lat], label:{ color: colorOf(name) } })),
  label:{ show:true, position:'inside', formatter:'{b}', fontFamily:FONT, fontSize:11.5 } });

const regionStyles = Object.keys(backdropRings).map(name => ({ name, itemStyle:{ areaColor: ['Canada','Mexico'].includes(name) ? C.backdrop : '#fff', borderWidth:0 } }))
  .concat(notAdopting.map(name => ({ name, itemStyle:{ areaColor:C.notAdopted } })));
const geoBase = { silent:true, roam:false, projection:mapProjection, label:{ show:false }, emphasis:{ disabled:true }, select:{ disabled:true },
  itemStyle:{ areaColor:C.adopted, borderColor:'#fff', borderWidth:1.2 } };

// ---------- Heat table helpers ----------
const typeColumns = [critical, prospective, dependent, soleComm, rebased, dispro, rural];
const cellData = [];
typeColumns.forEach((col, x) => col.forEach((v, y) => { if (v != null) cellData.push([x, y, v]); }));
const totalData = yearTotals.map((v, y) => [7, y, v]).concat(typeTotals.map((v, x) => [x, 10, v]));
const cellLabel = { show:true, color:'#222', fontFamily:FONT, fontSize:13, offset:[0,1.5] };

const stackBar = (name, data, color) => ({ name, type:'bar', stack:'closed', xAxisIndex:0, yAxisIndex:0, data, barWidth:26, z:3,
  itemStyle:{ color, borderColor:'#fff', borderWidth:0.4 },
  label:{ show:true, position:'inside', rotate:90, color:'#222', fontFamily:FONT, fontSize:12.5 } });

const chart = echarts.init(document.getElementById('chart'), null, { renderer:'canvas' });
chart.setOption({
  animation:false,
  backgroundColor:'#fff',
  geo:[
    Object.assign({}, geoBase, { map:'lower48', left:12, top:78, width:906, height:429, boundingCoords:[[-128.22,49.62],[-60.9,24.65]], regions:regionStyles }),
    Object.assign({}, geoBase, { map:'hawaii', left:787, top:262, width:128, height:118, boundingCoords:[[-161.65,24.04],[-154.77,18.12]] }),
    Object.assign({}, geoBase, { map:'alaska', left:787, top:384, width:128, height:119, boundingCoords:[[-186,72.84],[-132.67,50.6]],
      regions:[{ name:'Canada', itemStyle:{ areaColor:C.backdrop, borderWidth:0 } },{ name:'Russia', itemStyle:{ areaColor:C.backdrop, borderWidth:0 } }] })
  ],
  grid:[
    { left:968, top:289.4, width:344, height:183.9 },
    { left:100, top:576.5, width:819, height:179.4 },
    { left:1380, top:94, width:77, height:417 }
  ],
  xAxis:[
    { gridIndex:0, type:'category', data:years, axisTick:{ show:false }, axisLine:{ show:true, lineStyle:{ color:'#eee' } },
      axisLabel:{ rotate:90, color:'#555', fontFamily:FONT, fontSize:12.5, margin:5 } },
    { gridIndex:1, type:'category', position:'top', data:typeHeads, axisTick:{ show:false }, axisLine:{ show:false }, splitLine:{ show:false },
      axisLabel:{ interval:0, color:C.grey, fontFamily:FONT, fontSize:12.2, lineHeight:18, margin:29, verticalAlign:'middle' } },
    { gridIndex:2, type:'category', data:['# Closed'], show:false }
  ],
  yAxis:[
    { gridIndex:0, type:'value', min:0, max:17, interval:5, name:'# Closed', nameLocation:'middle', nameGap:19, nameRotate:90,
      nameTextStyle:{ color:'#555', fontFamily:FONT, fontSize:12 }, axisLine:{ show:false }, axisTick:{ show:false },
      splitLine:{ lineStyle:{ color:'#f1f1f1' } }, axisLabel:{ color:'#555', fontFamily:FONT, fontSize:13, margin:9, showMaxLabel:false, verticalAlignMinLabel:'bottom' } },
    { gridIndex:1, type:'category', inverse:true, data:years.concat(['Total']), axisTick:{ show:false }, axisLine:{ show:false }, splitLine:{ show:false },
      axisLabel:{ interval:0, align:'left', margin:82, color:'#555', fontFamily:FONT, fontSize:12.5, padding:[4,0,0,0] } },
    { gridIndex:2, type:'category', inverse:true, data:stateNames, axisTick:{ show:false }, axisLine:{ show:false },
      axisLabel:{ interval:0, align:'left', margin:58, color:'#555', fontFamily:FONT, fontSize:12.5, padding:[4,0,0,0] } }
  ],
  visualMap:[
    { show:false, type:'continuous', seriesIndex:7, dimension:2, min:1, max:8, inRange:{ color:['#ffbeb2','#ffa08f','#fb8b74','#f4705c','#ed5149','#dc3340','#c7233d','#ae123a'] } },
    { show:false, type:'continuous', seriesIndex:9, dimension:2, min:1, max:17, inRange:{ color:['#ffbeb2','#fd9a84','#f25f50','#d5303f','#ae123a'] } }
  ],
  series:[
    stackBar('Critical Access', critical, C.critical),
    stackBar('Prospective Payment', prospective, C.prospective),
    stackBar('Rural Referral', rural, C.rural),
    stackBar('Medicare Dependent', dependent, C.dependent),
    stackBar('Sole Community', soleComm, C.sole),
    stackBar('Re-based Sole', rebased, C.rebased),
    stackBar('Disproportionate Share', dispro, C.dispro),
    { type:'heatmap', xAxisIndex:1, yAxisIndex:1, data:cellData, label:cellLabel, silent:true },
    { type:'scatter', xAxisIndex:1, yAxisIndex:1, data:totalData, symbolSize:1, itemStyle:{ color:'transparent' }, silent:true,
      label:{ show:true, position:'inside', formatter:p => p.value[2], color:'#222', fontFamily:FONT, fontSize:13, offset:[0,1.5] } },
    { type:'heatmap', xAxisIndex:2, yAxisIndex:2, data:stateClosed.map((v, i) => [0, i, v]), label:cellLabel, silent:true },
    markers('Re-based Sole', sitesRebased, C.rebased, 3),
    markers('Critical Access', sitesCritical, C.critical, 4),
    markers('Rural Referral', sitesRural, C.rural, 5),
    markers('Disproportionate Share', sitesDispro, C.dispro, 5),
    markers('Medicare Dependent', sitesDependent, C.dependent, 6),
    markers('Sole Community', sitesSole, C.sole, 7),
    markers('Prospective Payment', sitesProspective, C.prospective, 8),
    mapTextSeries(0, stateLabels, n => notAdopting.includes(n) ? '#444' : '#888', 9),
    mapTextSeries(1, [['HI',-156.95,21.4]], () => '#888', 9),
    mapTextSeries(2, [['AK',-150.5,64.9]], () => '#888', 9)
  ],
  graphic:{ elements:graphics }
});
</script>
</body>
</html>
